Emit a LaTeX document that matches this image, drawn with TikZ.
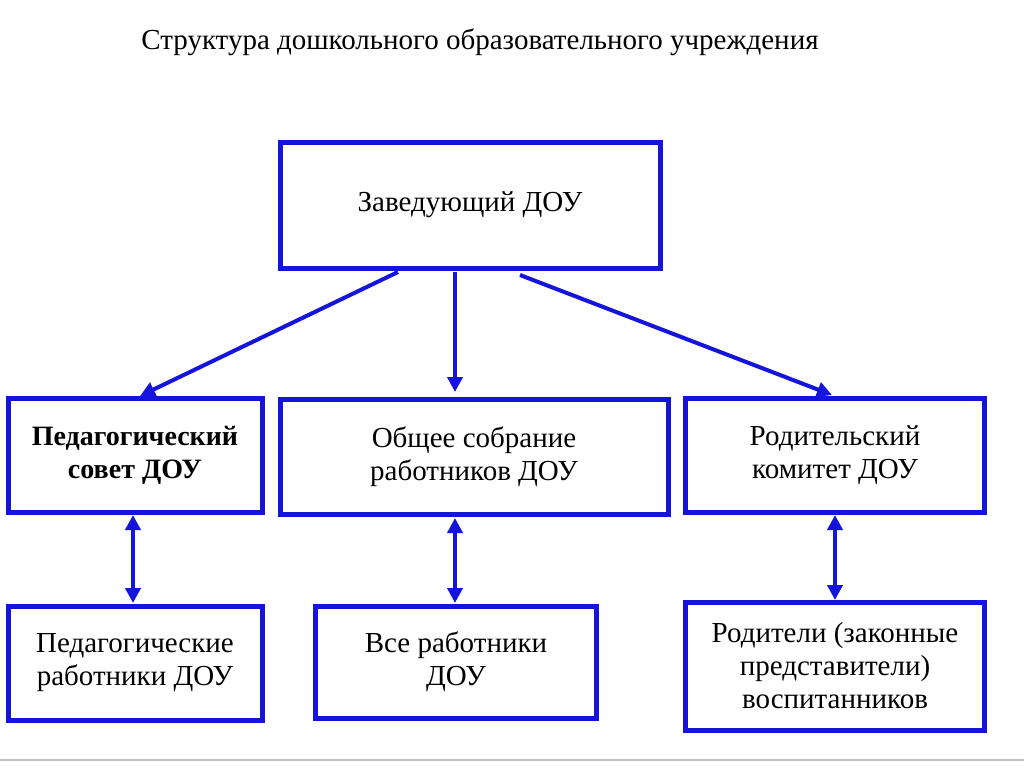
\documentclass[tikz,border=0pt]{standalone}
\usepackage{fontspec}
\setmainfont{Liberation Serif}
\usetikzlibrary{arrows.meta}
\definecolor{bl}{RGB}{20,20,220}
\begin{document}
\begin{tikzpicture}[x=1pt,y=-1pt,
  bx/.style={draw=bl,line width=5pt,align=center,font=\fontsize{29}{33}\selectfont,inner sep=0pt},
  ar/.style={draw=bl,line width=4pt,-{Triangle[length=15pt,width=15pt]}},
  da/.style={draw=bl,line width=4pt,{Triangle[length=15pt,width=15pt]}-{Triangle[length=15pt,width=15pt]}}]
\useasboundingbox[fill=white] (0,0) rectangle (1024,768);
\node[font=\fontsize{29}{33}\selectfont] (t) at (480,42) {Структура дошкольного образовательного учреждения};
\node[bx,minimum width=380pt,minimum height=126pt] (z) at (470,205) {Заведующий ДОУ};
\node[bx,minimum width=254pt,minimum height=114pt,font=\fontsize{28}{33}\selectfont\bfseries] (p) at (135,455) {Педагогический\\совет ДОУ};
\node[bx,minimum width=388pt,minimum height=115pt] (o) at (474,457) {Общее собрание\\работников ДОУ};
\node[bx,minimum width=299pt,minimum height=114pt] (r) at (835,455) {Родительский\\комитет ДОУ};
\node[bx,minimum width=254pt,minimum height=114pt] (pw) at (135,663) {Педагогические\\работники ДОУ};
\node[bx,minimum width=281pt,minimum height=112pt] (vw) at (456,662) {Все работники\\ДОУ};
\node[bx,minimum width=299pt,minimum height=128pt] (rw) at (835,666) {Родители (законные\\представители)\\воспитанников};
\coordinate (a1) at (398,272); \coordinate (b1) at (140,396);
\coordinate (a2) at (455,272); \coordinate (b2) at (455,392);
\coordinate (a3) at (520,275); \coordinate (b3) at (832,395);
\draw[ar] (a1) -- (b1);
\draw[ar] (a2) -- (b2);
\draw[ar] (a3) -- (b3);
\draw[da] (133,515) -- (133,603);
\draw[da] (455,518) -- (455,603);
\draw[da] (835,515) -- (835,600);
\draw[gray!50,line width=2pt] (0,760) -- (1024,760);
\end{tikzpicture}
\end{document}
